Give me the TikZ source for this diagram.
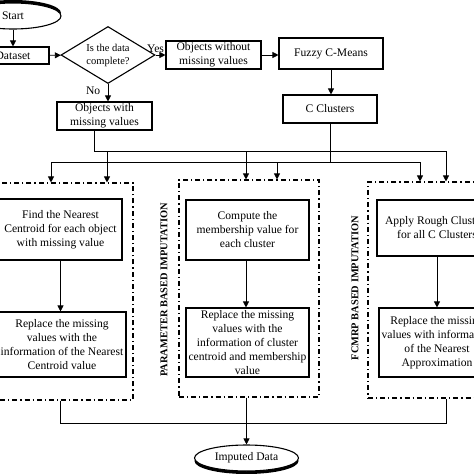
\documentclass[tikz,border=0pt]{standalone}
\usepackage{fontspec}
\setmainfont{Liberation Serif}
\usetikzlibrary{shapes.geometric, arrows.meta}

\tikzset{
  box/.style={draw, line width=1.1pt, align=center, inner sep=1pt, font=\fontsize{11.6}{14}\selectfont},
  decision/.style={diamond, draw, line width=1.1pt, align=center, inner sep=0pt, aspect=1.65, font=\fontsize{10.5}{13}\selectfont},
  terminal/.style={ellipse, draw, line width=1.1pt, fill=white, inner sep=0pt, font=\fontsize{11.6}{13}\selectfont},
  group/.style={draw, line width=1.1pt, dash pattern=on 5pt off 3pt on 1.2pt off 3pt, inner sep=0pt},
  flow/.style={line width=0.8pt, -{Triangle[width=6pt,length=6pt]}},
  link/.style={line width=0.8pt},
  sidelabel/.style={rotate=90, font=\bfseries\fontsize{10.4}{12}\selectfont}
}

\begin{document}
\begin{tikzpicture}[x=1pt, y=-1pt]

\useasboundingbox (0,0) rectangle (474,474);
\clip (0,0) rectangle (474,474);

% top row
\fill (13,13) ellipse [x radius=48pt, y radius=13pt];
\node[terminal, minimum width=96pt, minimum height=26pt] (start) at (13,16) {Start};
\node[box, minimum width=72pt, minimum height=17pt] (dataset) at (13,55.5) {Dataset};
\node[decision, minimum width=94pt, minimum height=57pt] (check) at (108,55) {Is the data\\complete?};
\node[box, minimum width=95pt, minimum height=28pt] (nomiss) at (213.5,55) {Objects without\\missing values};
\node[box, minimum width=104pt, minimum height=31pt] (fcm) at (331,53.5) {Fuzzy C-Means};
\node[box, minimum width=94pt, minimum height=28pt] (clusters) at (330,109) {C Clusters};
\node[box, minimum width=95pt, minimum height=28pt] (withmiss) at (104.5,116) {Objects with\\missing values};

% three groups
\node[group, minimum width=145pt, minimum height=217pt] (grpL) at (60.5,291.5) {};
\node[group, minimum width=140pt, minimum height=217pt] (grpM) at (249,288.5) {};
\node[group, minimum width=138pt, minimum height=216pt] (grpR) at (437,290) {};

\node[sidelabel] (lblM) at (164,290) {PARAMETER BASED IMPUTATION};
\node[sidelabel] (lblR) at (355,288) {FCMRP BASED IMPUTATION};

\node[box, minimum width=123pt, minimum height=61pt] (find) at (60.5,229.5) {Find the Nearest\\Centroid for each object\\with missing value};
\node[box, minimum width=128pt, minimum height=65pt] (repL) at (62,344.5) {Replace the missing\\values with the\\information of the Nearest\\Centroid value};
\node[box, minimum width=123pt, minimum height=60pt] (compute) at (247.5,230) {Compute the\\membership value for\\each cluster};
\node[box, minimum width=123pt, minimum height=69pt] (repM) at (247.5,342.5) {Replace the missing\\values with the\\information of cluster\\centroid and membership\\value};
\node[box, minimum width=120pt, minimum height=56pt] (apply) at (437,228) {Apply Rough Clusters\\for all C Clusters};
\node[box, minimum width=116pt, minimum height=69pt] (repR) at (437,342.5) {Replace the missing\\values with information\\of the Nearest\\Approximation};

\fill (246.5,461) ellipse [x radius=52pt, y radius=13pt];
\node[terminal, minimum width=104pt, minimum height=26pt] (imputed) at (246.5,458) {Imputed Data};

% bus points
\coordinate (busA) at (94,151);
\coordinate (busAend) at (446,151);
\coordinate (busB) at (51,162);
\coordinate (busBend) at (420,162);
\coordinate (joinL) at (60,423);
\coordinate (joinR) at (446,423);

% connectors
\draw[flow] (start.south) -- (dataset.north);
\draw[flow] (dataset) -- (check);
\draw[flow] (check.east) -- node[pos=0, above, inner sep=2pt, font=\fontsize{11.6}{13}\selectfont] {Yes} (check.east -| nomiss.west);
\draw[flow] (check.south) -- node[pos=0.4, left=4pt, font=\fontsize{11.6}{13}\selectfont] {No} (check.south |- withmiss.north);
\draw[flow] (nomiss.east) -- (nomiss.east -| fcm.west);
\draw[flow] (fcm.south) -- (fcm.south |- clusters.north);

\draw[link] (withmiss.south -| busA) -- (busA) -- (busAend);
\draw[flow] (busAend) -- (busAend |- grpR.north);
\foreach \x/\g in {107/grpL, 246/grpM}
  \draw[flow] (\x,151) -- (\x,151 |- \g.north);

\draw[link] (clusters.south) -- (clusters.south |- busB);
\draw[link] (busB) -- (busBend);
\draw[flow] (busB) -- (busB |- grpL.north);
\draw[flow] (busBend) -- (busBend |- grpR.north);
\draw[flow] (277,162) -- (277,162 |- grpM.north);

\draw[flow] (find.south) -- (find.south |- repL.north);
\draw[flow] (compute.south -| 246,0) -- (246,0 |- repM.north);
\draw[flow] (apply.south) -- (apply.south |- repR.north);

\draw[link] (grpL.south -| joinL) -- (joinL) -- (joinR) -- (joinR |- grpR.south);
\draw[flow] (grpM.south -| imputed.north) -- (imputed.north);

\end{tikzpicture}
\end{document}
